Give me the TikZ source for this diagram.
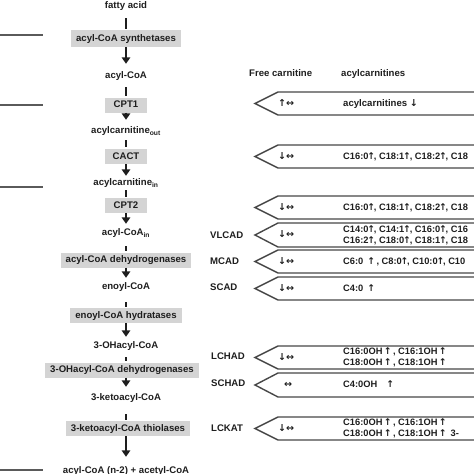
\documentclass[tikz,border=0pt]{standalone}
\usepackage{fontspec}
\setmainfont{Liberation Sans}
\newfontfamily\arrfont{DejaVu Sans}
\newcommand\up{{\kern-1.2pt\arrfont\bfseries ↑\kern-1.2pt}}
\newcommand\upw{{\arrfont\bfseries ↑}}
\newcommand\dn{{\arrfont\bfseries ↓}}
\newcommand\lr{{\arrfont\bfseries ↔}}
\usetikzlibrary{arrows.meta}
\definecolor{boxgray}{RGB}{212,212,212}
\definecolor{ink}{RGB}{30,30,30}
\definecolor{rule}{RGB}{90,90,90}
\newcommand\mychev[2]{\draw[chev] (490,#1) -- (278,#1) -- (255,{(#1+#2)/2}) -- (278,#2) -- (490,#2);}
\begin{document}
\begin{tikzpicture}[x=1pt,y=-1pt,
  font=\fontsize{9.6}{11}\selectfont\bfseries,
  txt/.style={inner sep=0pt, text height=7pt, text depth=2pt, text=ink},
  enz/.style={fill=boxgray, text=ink, inner xsep=5pt, inner ysep=0pt, minimum height=15pt, minimum width=42pt, text height=7pt, text depth=2pt},
  bar/.style={line width=2.6pt, draw=ink},
  arr/.style={line width=2.3pt, draw=ink, -{Triangle[width=8.5pt,length=6.5pt]}},
  chev/.style={draw=black!72, line width=1.4pt},
  lbl/.style={inner sep=0pt, anchor=west, text height=7pt, text depth=2pt, text=ink},
  lst/.style={lbl, font=\fontsize{9.3}{11}\selectfont\bfseries},
  side/.style={draw=rule, line width=1.2pt}
]
\useasboundingbox (0,0) rectangle (474,474);
\clip (0,0) rectangle (474,474);

% left column
\node[txt] (fa) at (126,6) {fatty acid};
\node[enz, minimum height=17pt] (e1) at (126,38.5) {acyl-CoA synthetases};
\node[txt] (ac) at (126,76) {acyl-CoA};
\node[enz] (e2) at (126,105) {CPT1};
\node[txt] (aout) at (126,131) {acylcarnitine\textsubscript{out}};
\node[enz] (e3) at (126,156.5) {CACT};
\node[txt] (ain) at (126,183) {acylcarnitine\textsubscript{in}};
\node[enz] (e4) at (126,205.5) {CPT2};
\node[txt] (acin) at (126,233) {acyl-CoA\textsubscript{in}};
\node[enz] (e5) at (126,260) {acyl-CoA dehydrogenases};
\node[txt] (en) at (126,287) {enoyl-CoA};
\node[enz] (e6) at (126,315.5) {enoyl-CoA hydratases};
\node[txt] (oh) at (126,346) {3-OHacyl-CoA};
\node[enz] (e7) at (122,370) {3-OHacyl-CoA dehydrogenases};
\node[txt] (ke) at (126,398) {3-ketoacyl-CoA};
\node[enz] (e8) at (128,428.5) {3-ketoacyl-CoA thiolases};
\node[txt] (fin) at (126,471) {acyl-CoA (n-2) + acetyl-CoA};

\draw[bar, shorten <=7.5pt, shorten >=0.5pt] (fa) -- (fa |- e1.north);
\draw[arr, shorten >=7.5pt] (e1) -- (ac);
\draw[bar, shorten <=6.5pt, shorten >=1.5pt] (ac) -- (ac |- e2.north);
\draw[arr, shorten >=6.5pt] (e2) -- (aout);
\draw[bar, shorten <=4.5pt, shorten >=1.5pt] (aout) -- (aout |- e3.north);
\draw[arr, shorten >=2.5pt] (e3) -- (ain);
\draw[bar, shorten <=2.5pt, shorten >=1pt] (ain) -- (ain |- e4.north);
\draw[arr, shorten >=4.5pt] (e4) -- (acin);
\draw[bar, shorten <=8.5pt, shorten >=1pt] (acin) -- (acin |- e5.north);
\draw[arr, shorten >=4.5pt] (e5) -- (en);
\draw[bar, shorten <=10.5pt, shorten >=1pt] (en) -- (en |- e6.north);
\draw[arr, shorten >=4.5pt] (e6.south -| oh) -- (oh);
\draw[bar, shorten <=6.5pt, shorten >=1pt] (oh) -- (oh |- e7.north);
\draw[arr, shorten >=6.5pt] (e7.south -| ke) -- (ke);
\draw[bar, shorten <=11.5pt, shorten >=1pt] (ke) -- (ke |- e8.north);
\draw[arr, shorten >=9.5pt] (e8.south -| fin) -- (fin);

% side rules
\draw[side] (0,35) -- (43,35);
\draw[side] (0,105) -- (43,105);
\draw[side] (0,187) -- (43,187);
\draw[side] (0,470) -- (43,470);

% headers
\node[lbl] (hfc) at (249,74) {Free carnitine};
\node[lbl] (hac) at (341,74) {acylcarnitines};

% chevrons
\mychev{92}{115}
\mychev{145}{168}
\mychev{196}{219}
\mychev{223}{247}
\mychev{250}{273}
\mychev{277}{300}
\mychev{346}{369}
\mychev{373}{397}
\mychev{417}{440}

% row labels
\node[lbl] (lv) at (210,236) {VLCAD};
\node[lbl] (lm) at (210,261.5) {MCAD};
\node[lbl] (ls) at (210,287.5) {SCAD};
\node[lbl] (llc) at (211,357) {LCHAD};
\node[lbl] (lsc) at (211,384) {SCHAD};
\node[lbl] (llk) at (211,428.5) {LCKAT};

% free carnitine
\node[lbl] (f1) at (278,103.5) {\upw\lr};
\node[lbl] (f2) at (278,156.5) {\dn\lr};
\node[lbl] (f3) at (278,207.5) {\dn\lr};
\node[lbl] (f4) at (278,234.5) {\dn\lr};
\node[lbl] (f5) at (278,261.5) {\dn\lr};
\node[lbl] (f6) at (278,288.5) {\dn\lr};
\node[lbl] (f7) at (278,357.5) {\dn\lr};
\node[lbl] (f8) at (284,385) {\lr};
\node[lbl] (f9) at (278,428.5) {\dn\lr};

% acylcarnitines
\node[lbl] (a1) at (343,103.5) {acylcarnitines \dn};
\node[lst] (a2) at (343,156.5) {C16:0\up, C18:1\up, C18:2\up, C18};
\node[lst] (a3) at (343,207.5) {C16:0\up, C18:1\up, C18:2\up, C18};
\node[lst] (a4a) at (343,229.5) {C14:0\up, C14:1\up, C16:0\up, C16};
\node[lst] (a4b) at (343,240.5) {C16:2\up, C18:0\up, C18:1\up, C18};
\node[lst] (a5) at (343,261.5) {C6:0\ \ \up\ , C8:0\up, C10:0\up, C10};
\node[lst] (a6) at (343,288.5) {C4:0\ \ \up};
\node[lst] (a7a) at (343,352) {C16:0OH\ \up\ , C16:1OH\ \up};
\node[lst] (a7b) at (343,363) {C18:0OH\ \up\ , C18:1OH\ \up};
\node[lst] (a8) at (343,385) {C4:0OH\ \ \ \ \up};
\node[lst] (a9a) at (343,422.5) {C16:0OH\ \up\ , C16:1OH\ \up};
\node[lst] (a9b) at (343,433.5) {C18:0OH\ \up\ , C18:1OH\ \up\ \ 3-};
\end{tikzpicture}
\end{document}
